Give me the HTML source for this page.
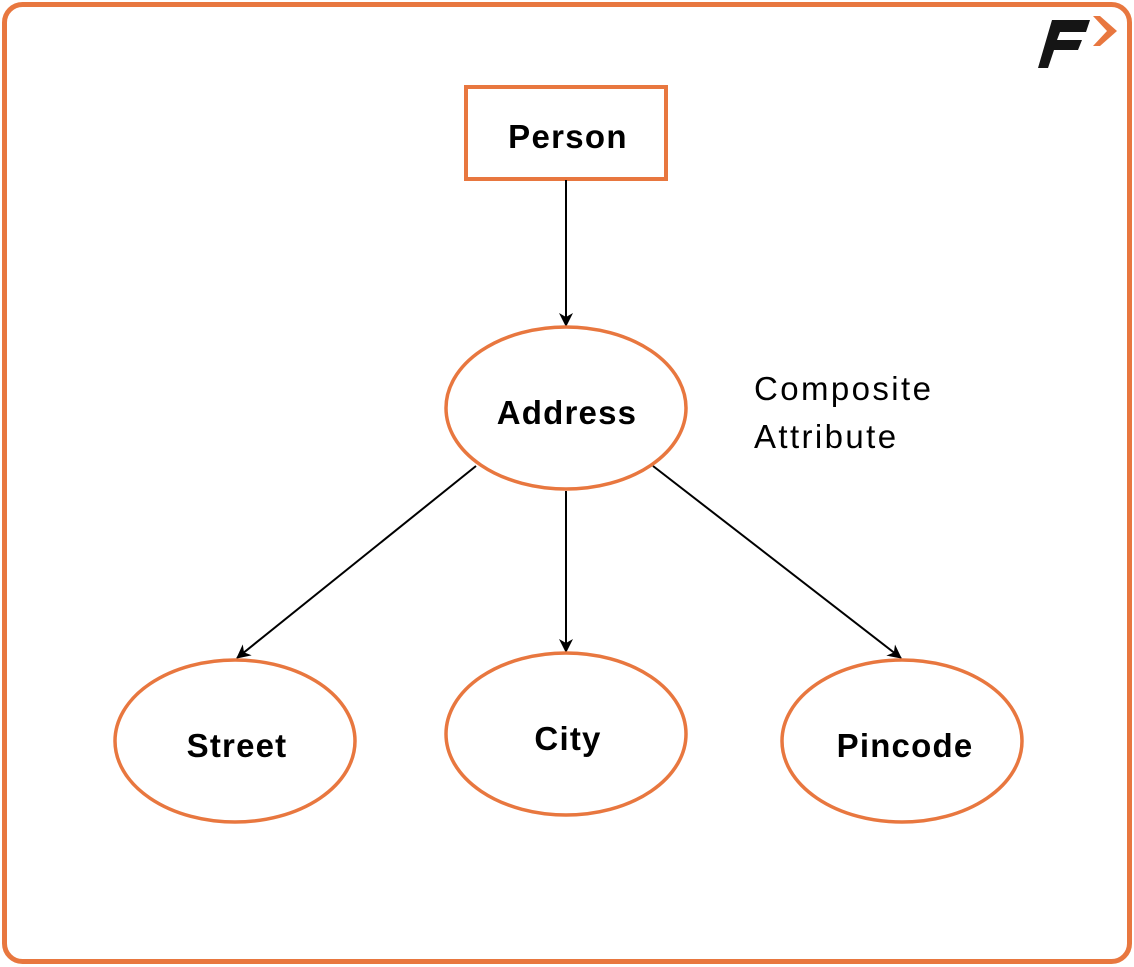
<!DOCTYPE html>
<html><head><meta charset="utf-8"><style>
html,body{margin:0;padding:0;background:#fff;}
svg{display:block;}
text{font-family:"Liberation Sans",sans-serif;}
</style></head><body>
<svg width="1134" height="967" viewBox="0 0 1134 967" xmlns="http://www.w3.org/2000/svg">
<defs><marker id="a" markerWidth="14" markerHeight="14" refX="13" refY="7" orient="auto" markerUnits="userSpaceOnUse"><path d="M0,0 L14,7 L0,14 L4,7 Z" fill="#000"/></marker></defs>
<rect x="4.5" y="4.5" width="1125" height="957" rx="18" fill="#fff" stroke="#E8773F" stroke-width="5"/>
<path d="M1052,20 L1090,20 L1086,32 L1060,32 L1057,40 L1082,40 L1078,50 L1054,50 L1048,68 L1038,68 Z" fill="#151515"/>
<path d="M1093,16 L1100,16 L1117,31 L1100,46 L1093,46 L1107,31 Z" fill="#E8773F"/>
<rect x="466" y="87" width="200" height="92" fill="#fff" stroke="#E8773F" stroke-width="4"/>
<g font-size="33" font-weight="bold" text-anchor="middle" letter-spacing="1.3">
<text x="568" y="148">Person</text>
</g>
<g stroke="#000" stroke-width="2" fill="none">
<line x1="566" y1="180" x2="566" y2="326" marker-end="url(#a)"/>
<line x1="476" y1="466" x2="237" y2="658" marker-end="url(#a)"/>
<line x1="566" y1="491" x2="566" y2="652" marker-end="url(#a)"/>
<line x1="653" y1="466" x2="901" y2="658" marker-end="url(#a)"/>
</g>
<g fill="#fff" stroke="#E8773F" stroke-width="3.5">
<ellipse cx="566" cy="408" rx="120" ry="81"/>
<ellipse cx="235" cy="741" rx="120" ry="81"/>
<ellipse cx="566" cy="734" rx="120" ry="81"/>
<ellipse cx="902" cy="741" rx="120" ry="81"/>
</g>
<g font-size="33" font-weight="bold" text-anchor="middle" letter-spacing="1.2">
<text x="567" y="424">Address</text>
<text x="237" y="757">Street</text>
<text x="568" y="750">City</text>
<text x="905" y="757">Pincode</text>
</g>
<text x="754" y="400" font-size="33" letter-spacing="2.4">Composite</text>
<text x="754" y="448" font-size="33" letter-spacing="2.4">Attribute</text>
</svg>
</body></html>
